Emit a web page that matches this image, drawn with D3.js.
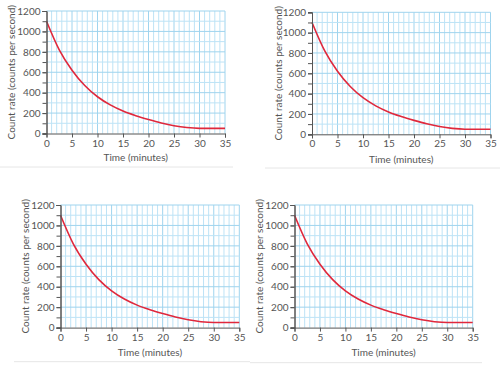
<!DOCTYPE html>
<html>
<head>
<meta charset="utf-8">
<script src="https://cdn.jsdelivr.net/npm/d3@7"></script>
<style>
  body { margin: 0; background: #fff; }
  svg { display: block; }
  text { font-family: Lato, sans-serif; fill: #555; }
</style>
</head>
<body>
<div id="chart"></div>
<script>
// count rate
const times = [0, 2.5, 5, 7.5, 10, 12.5, 15, 17.5, 20, 22.5, 25, 27.5, 30, 32.5, 35]
const counts = [1100, 820, 620, 470, 360, 280, 220, 175, 137, 103, 76, 58, 50, 50, 50]
const xTicks = [0, 5, 10, 15, 20, 25, 30, 35]
const yTicks = [0, 200, 400, 600, 800, 1000, 1200]
const xLabel = 'Time (minutes)'
const yLabel = 'Count rate (counts per second)'

// four copies of the same graph, placed like the original page
const panels = [
  {x0: 46.5, x1: 225, y0: 133.5, y1: 11, yLab: 11.5, xLabY: 157, sep: [0, 233, 167]},
  {x0: 312, x1: 490.5, y0: 134.3, y1: 12.3, yLab: 278, xLabY: 159, sep: [265, 500, 168]},
  {x0: 60.5, x1: 239.3, y0: 327.6, y1: 205, yLab: 25, xLabY: 352.5, sep: [14, 250, 361.7]},
  {x0: 294.5, x1: 472.7, y0: 327.6, y1: 205, yLab: 259, xLabY: 352.5, sep: [250, 482, 362.7]}
]

const svg = d3.select('#chart').append('svg')
  .attr('width', 500)
  .attr('height', 375)

function drawPanel (p) {
  const g = svg.append('g')
  const x = d3.scaleLinear().domain([0, 35]).range([p.x0, p.x1])
  const y = d3.scaleLinear().domain([0, 1200]).range([p.y0, p.y1])

  // blue graph paper
  g.append('g').selectAll('line')
    .data(d3.range(1, 36))
    .join('line')
    .attr('x1', d => x(d)).attr('x2', d => x(d))
    .attr('y1', y(0)).attr('y2', y(1200))
    .attr('stroke', d => d % 5 === 0 ? '#9fd4ee' : '#bde3f6')
    .attr('stroke-width', 1)
  g.append('g').selectAll('line')
    .data(d3.range(100, 1201, 100))
    .join('line')
    .attr('x1', x(0)).attr('x2', x(35))
    .attr('y1', d => y(d)).attr('y2', d => y(d))
    .attr('stroke', d => d % 200 === 0 ? '#9fd4ee' : '#bde3f6')
    .attr('stroke-width', 1)

  // the decay curve
  const line = d3.line()
    .x((d, i) => x(times[i]))
    .y(d => y(d))
    .curve(d3.curveMonotoneX)
  g.append('path')
    .datum(counts)
    .attr('d', line)
    .attr('fill', 'none')
    .attr('stroke', '#e0283c')
    .attr('stroke-width', 1.6)

  // axes
  const xAxis = d3.axisBottom(x).tickValues(xTicks).tickSize(4).tickPadding(2)
  const yMinor = d3.axisLeft(y).tickValues(d3.range(0, 1201, 100)).tickSize(4).tickFormat('')
  const yAxis = d3.axisLeft(y).tickValues(yTicks).tickSize(4).tickPadding(2).tickFormat(d3.format('d'))

  const gx = g.append('g').attr('transform', `translate(0,${p.y0})`).call(xAxis)
  g.append('g').attr('transform', `translate(${p.x0},0)`).call(yMinor)
  const gy = g.append('g').attr('transform', `translate(${p.x0},0)`).call(yAxis)
  g.selectAll('.domain').attr('stroke', '#555')
  g.selectAll('.tick line').attr('stroke', '#555')
  gx.selectAll('text').style('font-size', '10px').style('font-family', 'Lato, sans-serif').attr('fill', '#555')
  gy.selectAll('text').style('font-size', '10px').style('font-family', 'Lato, sans-serif').attr('fill', '#555')

  g.append('text')
    .attr('x', (p.x0 + p.x1) / 2)
    .attr('y', p.xLabY + 3.5)
    .attr('text-anchor', 'middle')
    .style('font-size', '10px')
    .text(xLabel)

  g.append('text')
    .attr('transform', `translate(${p.yLab + 3.5},${(p.y0 + p.y1) / 2}) rotate(-90)`)
    .attr('text-anchor', 'middle')
    .style('font-size', '10px')
    .text(yLabel)

  // thin rule under each graph
  g.append('line')
    .attr('x1', p.sep[0]).attr('x2', p.sep[1])
    .attr('y1', p.sep[2]).attr('y2', p.sep[2])
    .attr('stroke', '#e6e6e6')
}

panels.forEach(drawPanel)
</script>
</body>
</html>
